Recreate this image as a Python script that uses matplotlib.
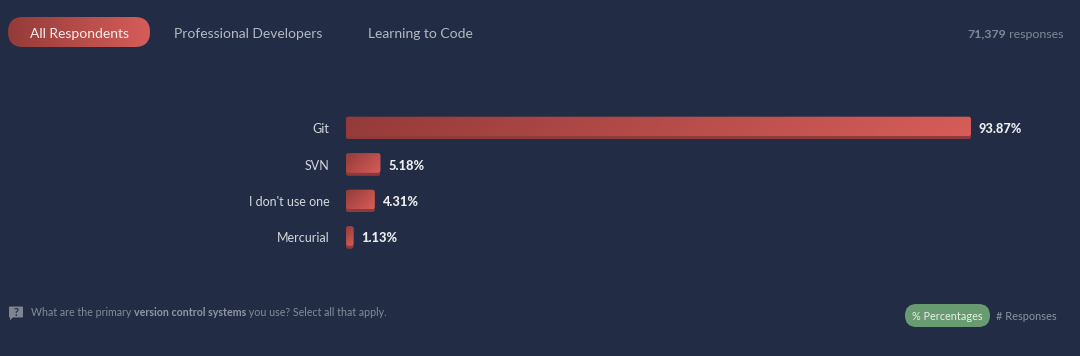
import numpy as np
import matplotlib
matplotlib.use("Agg")
import matplotlib.pyplot as plt
from matplotlib.patches import FancyBboxPatch
from matplotlib.colors import LinearSegmentedColormap

categories = ["Git", "SVN", "I don't use one", "Mercurial"]
values = [93.87, 5.18, 4.31, 1.13]
value_labels = ["93.87%", "5.18%", "4.31%", "1.13%"]
tabs = ["All Respondents", "Professional Developers", "Learning to Code"]

W, H = 1080, 356
BG = "#222d45"
plt.rcParams["font.family"] = ["Lato", "DejaVu Sans"]

fig = plt.figure(figsize=(W / 100, H / 100), dpi=100, facecolor=BG)

bg = fig.add_axes([0, 0, 1, 1], zorder=0)
bg.set_xlim(0, W); bg.set_ylim(H, 0); bg.axis("off")

grad = LinearSegmentedColormap.from_list("g", ["#943b39", "#d65d59"])

def pill(x0, y0, x1, y1, r, **kw):
    p = FancyBboxPatch((x0, y0), x1 - x0, y1 - y0,
                       boxstyle=f"round,pad=0,rounding_size={r}", **kw)
    bg.add_patch(p)
    return p

p = pill(8, 17, 150, 47, 15, fc="none", ec="none")
im = bg.imshow(np.linspace(0, 1, 256)[None, :], cmap=grad, extent=(8, 150, 47, 17),
               aspect="auto", zorder=1)
im.set_clip_path(p)
bg.set_xlim(0, W); bg.set_ylim(H, 0)

for cx, tab, col in zip([79, 248, 420], tabs, ["#f6f0ef", "#b4b9c3", "#b4b9c3"]):
    bg.text(cx, 33, tab, color=col, fontsize=10.0, ha="center", va="center_baseline", zorder=3)

def run(x, y, parts, size):
    r = fig.canvas.get_renderer()
    for s, weight, col in parts:
        bg.text(x, y, s, fontsize=size, fontweight=weight, color=col,
                ha="left", va="center_baseline")
        t2 = bg.text(0, 0, s.replace(" ", "\u00a0"), fontsize=size, fontweight=weight, alpha=0)
        x += t2.get_window_extent(r).width
        t2.remove()

run(967.5, 33, [("71,379", "bold", "#7f8798"), (" responses", "normal", "#7f8798")], 8.9)
run(31, 312, [("What are the primary ", "normal", "#838a9a"),
              ("version control systems", "bold", "#9096a4"),
              (" you use? Select all that apply.", "normal", "#838a9a")], 7.7)

pill(9, 306.5, 23, 317.5, 1, fc="#7d8492", ec="none")
bg.fill([10, 10, 14], [316, 320.5, 316], color="#7d8492", lw=0)
bg.text(16, 312, "?", color=BG, fontsize=8, fontweight="bold", ha="center", va="center_baseline")

pill(905, 304, 990, 327, 11.5, fc="#689c70", ec="none")
bg.text(947, 316, "% Percentages", color="#e8efe8", fontsize=7.8, ha="center", va="center_baseline")
bg.text(1026.5, 316, "# Responses", color="#8d93a1", fontsize=7.9, ha="center", va="center_baseline")

PX = 6.658
ROW = 36.5
ax = fig.add_axes([346 / W, 1 - 255.75 / H, 100 * PX / W, 4 * ROW / H], zorder=1)
ax.patch.set_alpha(0)
ax.set_xlim(0, 100)
ax.set_ylim(3.5, -0.5)
for s in ax.spines.values():
    s.set_visible(False)
ax.xaxis.set_visible(False)
ypos = np.arange(len(categories))
ax.set_yticks(ypos, categories)
ax.tick_params(axis="y", length=0, pad=12, labelsize=9.0, labelcolor="#d4d7dc")

bar_h = 22.6 / ROW
face_h = 19.6 / ROW
aspect = PX / ROW
rnd = 2.5 / PX

bars = ax.barh(ypos, values, height=bar_h, color="#8e3a3b", zorder=2)
for bar, v, y, lab in zip(bars, values, ypos, value_labels):
    top = bar.get_y()
    base = FancyBboxPatch((0, top), v, bar_h, boxstyle=f"round,pad=0,rounding_size={rnd}",
                          mutation_aspect=aspect, fc="none", ec="none",
                          transform=ax.transData)
    ax.add_patch(base)
    bar.set_clip_path(base)
    face = FancyBboxPatch((0, top), v, face_h, boxstyle=f"round,pad=0,rounding_size={rnd}",
                          mutation_aspect=aspect, fc="none", ec="none",
                          transform=ax.transData)
    ax.add_patch(face)
    wpx, hpx = v * PX, 19.6
    u, w = np.meshgrid(np.linspace(0, 1, 200), np.linspace(0, 1, 24))
    g = (u * wpx + w * hpx) / (wpx + hpx)
    im = ax.imshow(g, cmap=grad, vmin=0, vmax=1, extent=(0, v, top + face_h, top),
                   aspect="auto", zorder=3)
    im.set_clip_path(face)
    ax.annotate(lab, (v, y), xytext=(8 * 0.72, 0), textcoords="offset points",
                color="#eceef0", fontsize=9.2, fontweight="black", va="center_baseline", ha="left",
                annotation_clip=False)
ax.set_xlim(0, 100)
ax.set_ylim(3.5, -0.5)

fig.savefig("out.png", dpi=100, facecolor=BG)
